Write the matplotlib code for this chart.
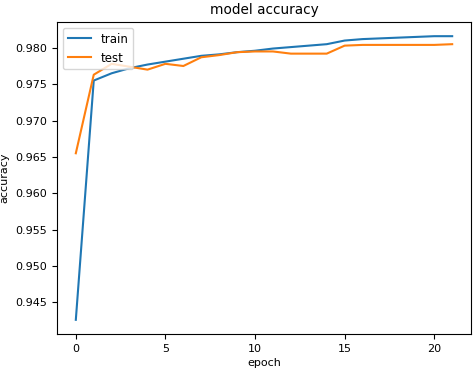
import matplotlib
matplotlib.use('Agg')
import matplotlib.pyplot as plt

# accuracy per epoch
epochs = list(range(22))
train_acc = [0.9426, 0.9755, 0.9765, 0.9772, 0.9777, 0.9781, 0.9785, 0.9789,
             0.9791, 0.9794, 0.9796, 0.9799, 0.9801, 0.9803, 0.9805, 0.9810,
             0.9812, 0.9813, 0.9814, 0.9815, 0.9816, 0.9816]
test_acc = [0.9655, 0.9763, 0.9778, 0.9774, 0.9770, 0.9778, 0.9775, 0.9787,
            0.9790, 0.9794, 0.9795, 0.9795, 0.9792, 0.9792, 0.9792, 0.9803,
            0.9804, 0.9804, 0.9804, 0.9804, 0.9804, 0.9805]

plt.rcParams['font.size'] = 8

fig = plt.figure(figsize=(4.74, 3.72), dpi=100)
# axes box placed to match the reference (pixels from top-left)
ax = fig.add_axes([57 / 474, 1 - 334 / 372, 414 / 474, 312 / 372])
ax.plot(epochs, train_acc, label='train')
ax.plot(epochs, test_acc, label='test')
ax.set_title('model accuracy', fontsize=9.8)
ax.set_ylabel('accuracy')
ax.set_xlabel('epoch', labelpad=3)
ax.legend(loc='upper left', fontsize=8.5)
fig.savefig('out.png')
